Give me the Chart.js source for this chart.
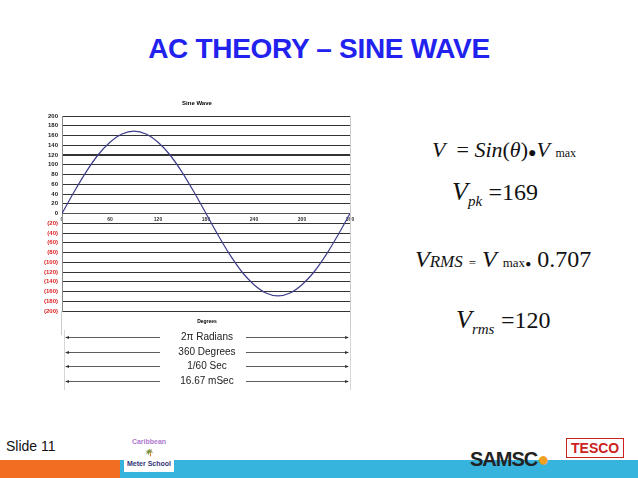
<!DOCTYPE html>
<html><head><meta charset="utf-8">
<script src="https://cdn.jsdelivr.net/npm/chart.js@4"></script>
<style>
body{margin:0;width:638px;height:478px;position:relative;background:#fff;overflow:hidden;font-family:"Liberation Sans",Arial,sans-serif}
.a{position:absolute}
#title{left:0;width:638px;top:33px;text-align:center;color:#2222ee;font:bold 28px "Liberation Sans Narrow","Liberation Sans",Arial;letter-spacing:-0.3px}
.eq{font-family:"Liberation Serif","Times New Roman",serif;color:#111}
.lab{font-size:10px;color:#222;width:100px;text-align:center}
</style></head><body>
<div id="title" class="a">AC THEORY – SINE WAVE</div>
<div class="a" style="left:20px;top:95px;width:360px;height:240px"><canvas id="c" width="360" height="240"></canvas></div>
<div class="a" style="left:157px;top:100px;font:bold 6px Arial;width:80px;text-align:center">Sine Wave</div>
<div class="a" style="left:167px;top:318px;font:bold 5px Arial;width:80px;text-align:center">Degrees</div>
<canvas id="ann" class="a" style="left:0;top:330px" width="400" height="70"></canvas>
<div class="a lab" style="left:157px;top:331px">2π Radians</div>
<div class="a lab" style="left:157px;top:346px">360 Degrees</div>
<div class="a lab" style="left:157px;top:360px">1/60 Sec</div>
<div class="a lab" style="left:157px;top:375px">16.67 mSec</div>
<div class="a eq" style="left:432px;top:137px;font-size:22px"><i>V</i> &nbsp;= <i>Sin</i>(<i>θ</i>)<span style="font-size:14px">●</span><i>V</i> <span style="font-size:12px">max</span></div>
<div class="a eq" style="left:452px;top:177px;font-size:26px"><i>V</i><sub style="font-size:15px"><i>pk</i></sub> <span style="font-size:24px">=169</span></div>
<div class="a eq" style="left:415px;top:246px;font-size:24px"><i>V<span style="font-size:17px">RMS</span></i> <span style="font-size:13px">=</span> <i>V</i> <span style="font-size:13px">max</span><span style="font-size:10px">●</span> 0.707</div>
<div class="a eq" style="left:456px;top:305px;font-size:26px"><i>V</i><sub style="font-size:15px"><i>rms</i></sub> <span style="font-size:24px">=120</span></div>
<div class="a" style="left:6px;top:438px;font-size:14px;color:#111">Slide 11</div>
<div class="a" style="left:0;top:460px;width:130px;height:18px;background:#f26c22"></div>
<div class="a" style="left:120px;top:460px;width:518px;height:18px;background:#37b4de"></div>
<div class="a" style="left:124px;top:436px;width:50px;height:36px;background:#fff;font:bold 7px Arial;color:#b07ad0;text-align:center;line-height:11px">Caribbean<br><span style="color:#3a3">🌴</span><br><span style="color:#337">Meter School</span></div>
<div class="a" style="left:470px;top:448px;font:bold 20px Arial;color:#222;letter-spacing:-1px">SAMSC<span style="color:#f0a020">●</span></div>
<div class="a" style="left:566px;top:438px;font:bold 14px Arial;color:#c22;border:1px solid #c22;padding:1px 4px">TESCO</div>
<script>
const degrees=[0,15,30,45,60,75,90,105,120,135,150,165,180,195,210,225,240,255,270,285,300,315,330,345,360];
const volts=[0,44,85,120,146,163,169,163,146,120,85,44,0,-44,-85,-120,-146,-163,-169,-163,-146,-120,-85,-44,0];
const yTicks=[200,180,160,140,120,100,80,60,40,20,0,-20,-40,-60,-80,-100,-120,-140,-160,-180,-200];
const rms=120;
const border={id:'b',afterDraw(c){const a=c.chartArea,x=c.ctx;x.save();x.strokeStyle='#ccc';x.lineWidth=1;x.beginPath();x.moveTo(a.right+.5,a.top);x.lineTo(a.right+.5,a.bottom+40);x.moveTo(a.left-.5,a.bottom);x.lineTo(a.left-.5,a.bottom+40);x.stroke();x.restore();}};
new Chart(document.getElementById('c'),{type:'line',
data:{datasets:[{data:degrees.map((d,i)=>({x:d,y:volts[i]})),borderColor:'#3d3d8a',borderWidth:1.2,pointRadius:0,tension:0.4,cubicInterpolationMode:'monotone'}]},
options:{animation:false,responsive:false,plugins:{legend:{display:false},tooltip:{enabled:false}},
layout:{padding:{left:20,right:30,top:21,bottom:24}},
scales:{
x:{type:'linear',min:0,max:360,position:{y:0},ticks:{stepSize:60,autoSkip:false,maxRotation:0,font:{size:5,weight:'bold'},color:'#333',padding:1},grid:{display:false,drawTicks:true,tickLength:2},border:{color:'#555'}},
y:{min:-200,max:200,afterBuildTicks:s=>{s.ticks=yTicks.map(v=>({value:v}))},ticks:{autoSkip:false,font:{size:6,weight:'bold'},color:c=>c.tick.value<0?'#d22':'#222',callback:v=>v<0?'('+(-v)+')':String(v),padding:4},
grid:{color:'#333',lineWidth:c=>c.tick.value===rms?2:1,drawTicks:false},border:{color:'#888'}}}},
plugins:[border]});
const x=document.getElementById('ann').getContext('2d');
x.strokeStyle='#333';x.fillStyle='#333';x.lineWidth=0.8;
[7,22,36,51].forEach(y=>{y+=0.5;
 x.beginPath();x.moveTo(66,y);x.lineTo(160,y);x.moveTo(246,y);x.lineTo(348,y);x.stroke();
 x.beginPath();x.moveTo(65,y);x.lineTo(69,y-1.5);x.lineTo(69,y+1.5);x.fill();
 x.beginPath();x.moveTo(349,y);x.lineTo(345,y-1.5);x.lineTo(345,y+1.5);x.fill();});
x.strokeStyle='#ccc';x.beginPath();x.moveTo(64.5,0);x.lineTo(64.5,60);x.moveTo(350.5,0);x.lineTo(350.5,60);x.stroke();
</script></body></html>
